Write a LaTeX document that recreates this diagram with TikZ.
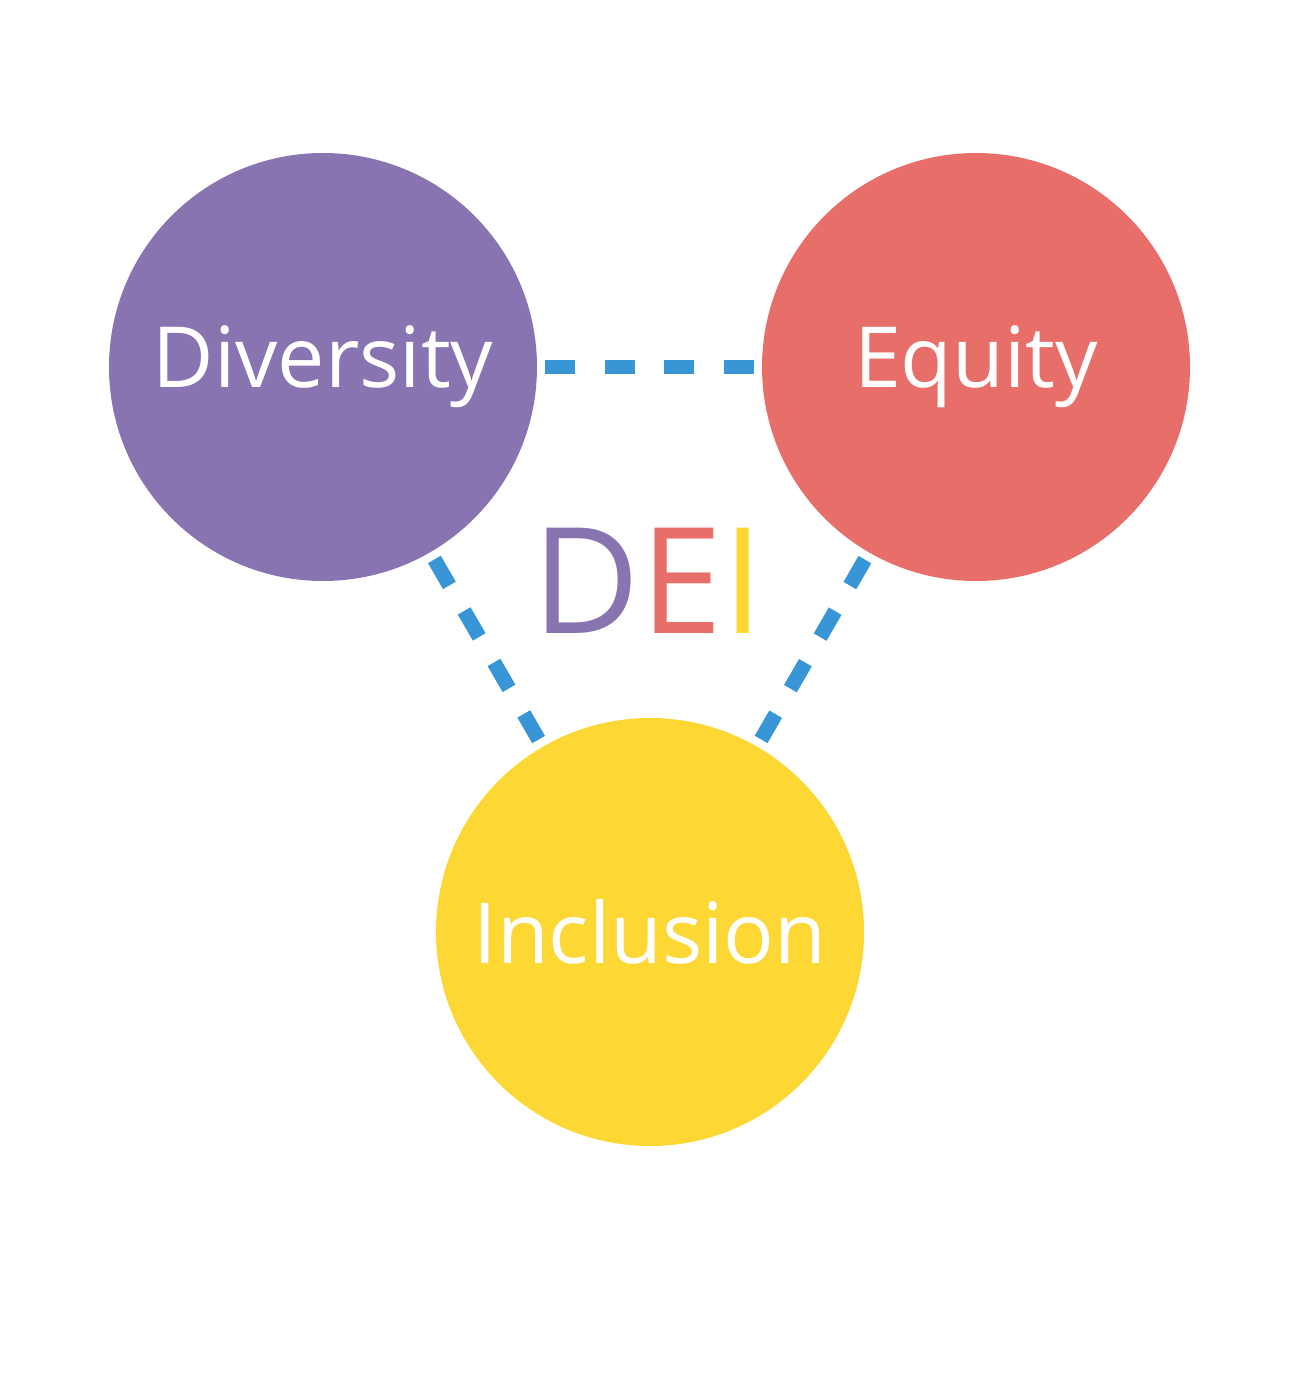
\documentclass[tikz,border=0pt]{standalone}
\usepackage{fontspec}
\setmainfont{Open Sans}
\usepackage{tikz}
\usetikzlibrary{positioning}

\definecolor{deipurple}{RGB}{137,116,178}
\definecolor{deired}{RGB}{232,110,106}
\definecolor{deiyellow}{RGB}{253,215,51}
\definecolor{deiblue}{RGB}{56,150,214}

\begin{document}
\begin{tikzpicture}[
    pillar/.style={circle, minimum size=8.56cm, inner sep=0pt, text=white, font=\fontsize{48}{58}\selectfont},
    link/.style={deiblue, line width=8.4pt, dash pattern=on 0.6cm off 0.59cm, shorten <=0.16cm, shorten >=0.16cm}
]
    % Canvas
    \useasboundingbox (0,0) rectangle (26,-27.8);

    % Three circles
    \node[pillar, fill=deipurple] (diversity) at (6.46,-7.34) {Diversity};
    \node[pillar, fill=deired] (equity) at (19.52,-7.34) {Equity};
    \node[pillar, fill=deiyellow] (inclusion) at (13.0,-18.64) {Inclusion};

    % Dashed links
    \draw[link] (diversity) -- (equity);
    \draw[link] (diversity) -- (inclusion);
    \draw[link] (equity) -- (inclusion);

    % Centre label
    \node[inner sep=0pt, font=\fontsize{84}{100}\selectfont] (dei) at (12.96,-11.62)
        {\textcolor{deipurple}{D}\textcolor{deired}{E}\textcolor{deiyellow}{I}};
\end{tikzpicture}
\end{document}
